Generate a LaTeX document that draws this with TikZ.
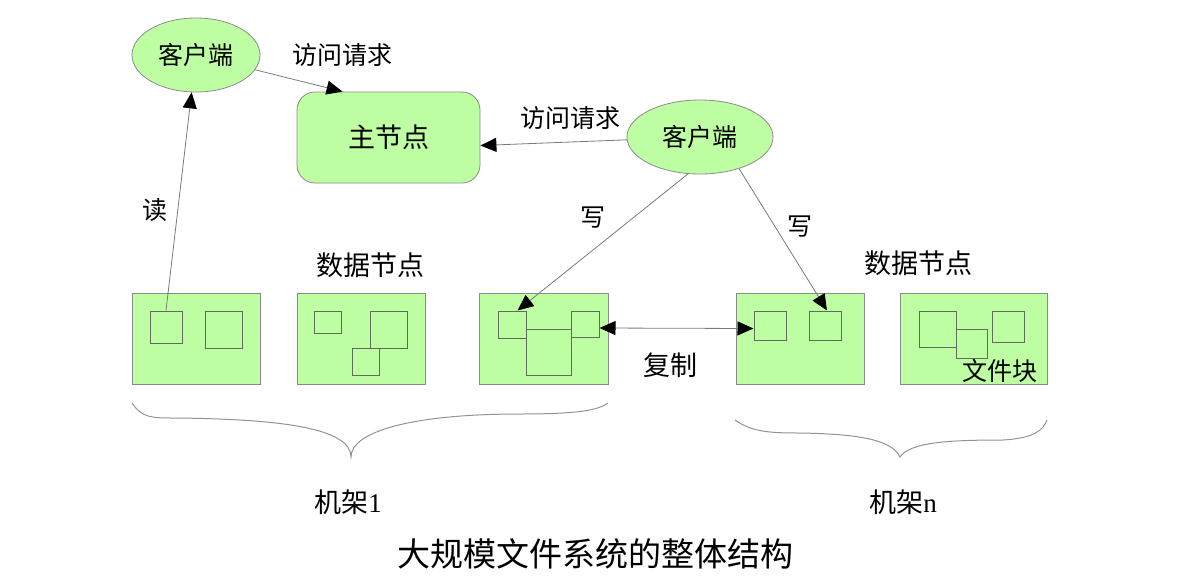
\documentclass[tikz,border=0pt]{standalone}
\usepackage{fontspec}
\setmainfont{Liberation Serif}
\newfontfamily\cjk{Noto Sans CJK SC}
\usetikzlibrary{shapes.geometric,arrows.meta,calc,fit}
\definecolor{gfill}{HTML}{BFFFA3}
\definecolor{gline}{HTML}{8A8A8A}
\definecolor{sqline}{HTML}{5E6E58}
\definecolor{aline}{HTML}{7A7A7A}
\begin{document}
\begin{tikzpicture}[x=1pt,y=-1pt,
  client/.style={ellipse,draw=gline,fill=gfill,inner sep=0pt,line width=0.8pt,
    font=\fontsize{25}{27}\selectfont\cjk},
  master/.style={draw=gline,fill=gfill,rounded corners=18pt,inner sep=0pt,line width=0.8pt,
    font=\fontsize{27}{30}\selectfont\cjk},
  rack/.style={draw=gline,fill=gfill,inner sep=0pt,line width=1pt},
  blk/.style={draw=sqline,inner sep=0pt,line width=1pt},
  lbl/.style={inner sep=0pt,font=\fontsize{25}{27}\selectfont\cjk},
  big/.style={inner sep=0pt,font=\fontsize{27}{30}\selectfont\cjk},
  arr/.style={draw=aline,line width=0.8pt,-{Triangle[length=16pt,width=14pt,color=black]}},
  dbl/.style={draw=aline,line width=0.8pt,{Triangle[length=16pt,width=14pt,color=black]}-{Triangle[length=16pt,width=14pt,color=black]}},
  brace/.style={draw=gray!85,line width=1pt}
]
\useasboundingbox (0,0) rectangle (1197,582);

% clients and master
\node[client,minimum width=128pt,minimum height=74pt] (c1) at (196,55) {客户端};
\node[client,minimum width=146pt,minimum height=74pt] (c2) at (700,137) {客户端};
\node[master,fit={(297,92) (480,183)}] (m) {};
\node[big] (mt) at (m.center) {主节点};

% racks
\node[rack,fit={(132,293) (260,384)}] (r1) {};
\node[rack,fit={(297,293) (425,384)}] (r2) {};
\node[rack,fit={(479,293) (608,384)}] (r3) {};
\node[rack,fit={(736,293) (864,384)}] (r4) {};
\node[rack,fit={(900,293) (1047,384)}] (r5) {};

% blocks
\node[blk,fit={(150,311) (182,343)}] (b1a) {};
\node[blk,fit={(205,311) (242,348)}] (b1b) {};
\node[blk,fit={(314,311) (341,333)}] (b2a) {};
\node[blk,fit={(370,311) (407,348)}] (b2b) {};
\node[blk,fit={(352,348) (379,375)}] (b2c) {};
\node[blk,fit={(498,311) (526,338)}] (b3a) {};
\node[blk,fit={(526,329) (571,375)}] (b3b) {};
\node[blk,fit={(571,311) (599,337)}] (b3c) {};
\node[blk,fit={(754,311) (786,340)}] (b4a) {};
\node[blk,fit={(809,311) (841,340)}] (b4b) {};
\node[blk,fit={(919,311) (956,347)}] (b5a) {};
\node[blk,fit={(956,329) (987,358)}] (b5b) {};
\node[blk,fit={(992,311) (1024,342)}] (b5c) {};

% labels
\node[lbl] (l1) at (342,55) {访问请求};
\node[lbl] (l2) at (570,118) {访问请求};
\node[lbl] (l3) at (155,210) {读};
\node[lbl] (l4) at (593,218) {写};
\node[lbl] (l5) at (800,227) {写};
\node[big] (l6) at (370,265) {数据节点};
\node[big] (l7) at (918,263) {数据节点};
\node[big] (l8) at (670,365) {复制};
\node[lbl] (l9) at (1000,371) {文件块};
\node[inner sep=0pt,font=\fontsize{27}{30}\selectfont] (l10) at (348,502) {{\cjk 机架}1};
\node[inner sep=0pt,font=\fontsize{27}{30}\selectfont] (l11) at (903,502) {{\cjk 机架}n};
\node[inner sep=0pt,font=\fontsize{33}{36}\selectfont\cjk] (title) at (595,554) {大规模文件系统的整体结构};

% connectors
\draw[arr] (c1) -- ($(m.north west)!0.25!(m.north east)$);
\draw[arr] (c2) -- ($(m.east)+(0,8)$);
\draw[arr] (b1a.north) -- (c1);
\draw[arr] (c2.-108) -- ($(b3a.north east)+(-9,0)$);
\draw[arr] (c2.-39) -- ($(b4b.north)+(2,0)$);
\draw[dbl] ($(b3c.east)+(0,4)$) -- ($(b4a.west)+(0,3)$);

% braces
\coordinate (br1) at (351,457);
\coordinate (br2) at (900,457);
\draw[brace] (132,403) .. controls (142,418) and (152,418) .. (175,418)
  .. controls (280,419) and (351,428) .. (br1)
  .. controls (351,432) and (410,414) .. (520,414)
  .. controls (580,414) and (598,410) .. (608,403);
\draw[brace] (735,420) .. controls (752,432) and (770,433) .. (800,433)
  .. controls (860,434) and (892,440) .. (br2)
  .. controls (910,442) and (950,440) .. (1003,440)
  .. controls (1035,438) and (1043,430) .. (1047,420);
\end{tikzpicture}
\end{document}
